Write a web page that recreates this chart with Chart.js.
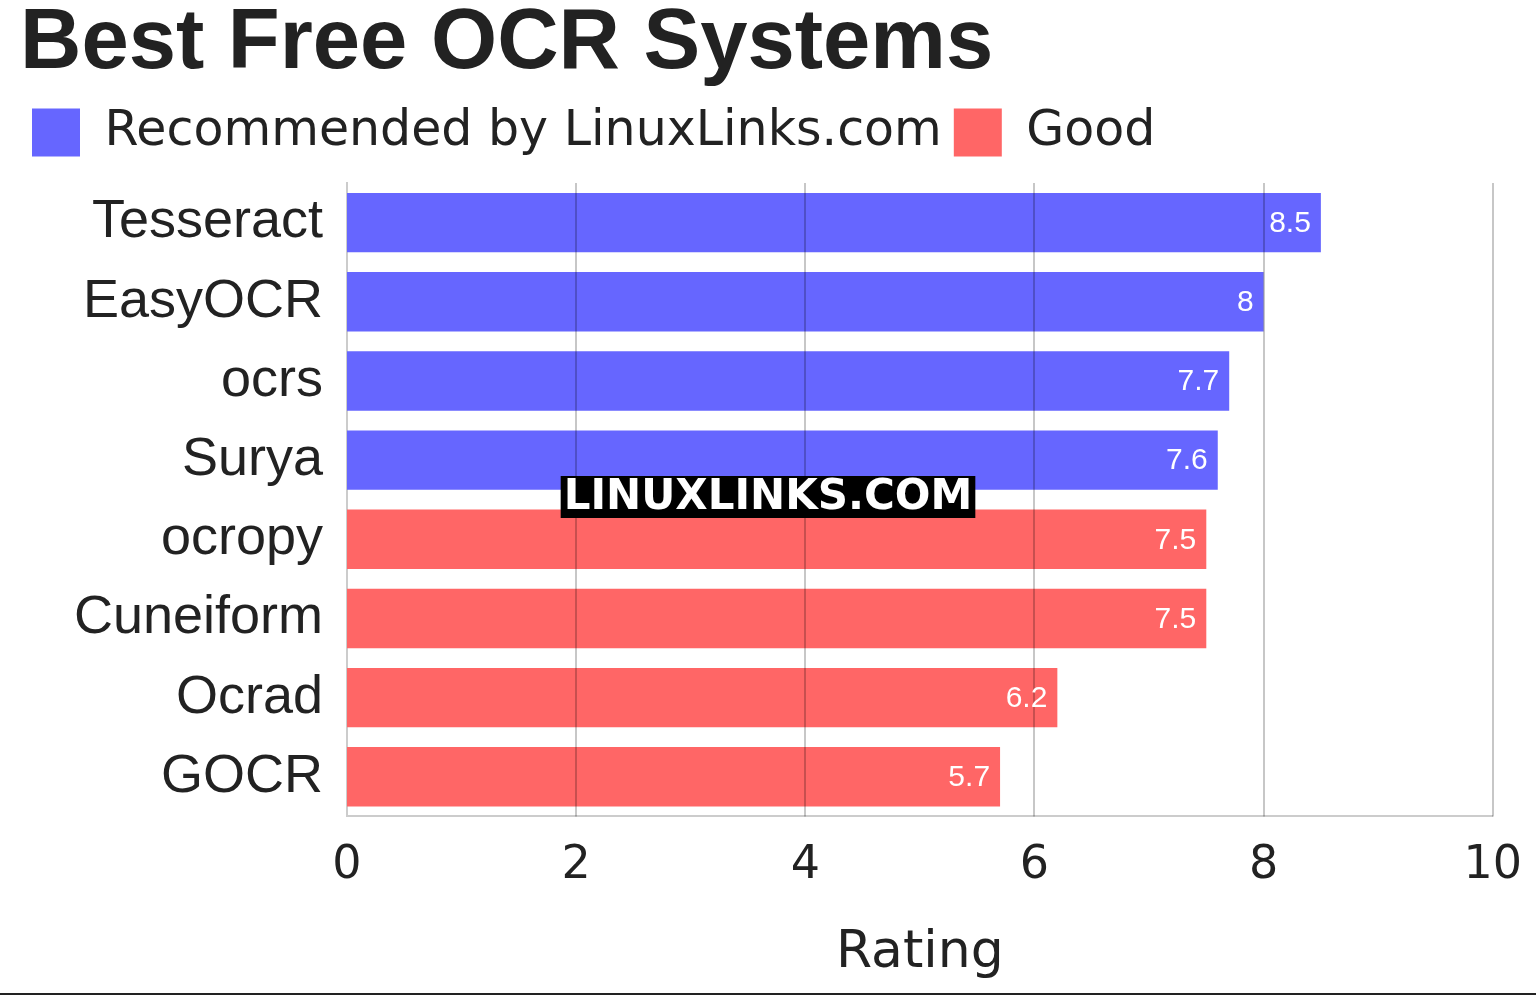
<!DOCTYPE html>
<html>
<head>
<meta charset="utf-8">
<script src="https://cdn.jsdelivr.net/npm/chart.js@4/dist/chart.umd.min.js"></script>
<style>
  html, body { margin: 0; padding: 0; background: #fff; }
  #wrap { width: 1536px; height: 993px; border-bottom: 2px solid #222; }
</style>
</head>
<body>
<div id="wrap"><canvas id="chartData" width="1536" height="993"></canvas></div>
<script>
const categories = ['Tesseract', 'EasyOCR', 'ocrs', 'Surya', 'ocropy', 'Cuneiform', 'Ocrad', 'GOCR']
const recommended = [8.5, 8, 7.7, 7.6, null, null, null, null]
const good = [null, null, null, null, 7.5, 7.5, 6.2, 5.7]
const xTicks = [0, 2, 4, 6, 8, 10]

// extra room under the legend
const legendGap = {
  id: 'legendGap',
  beforeLayout(chart) {
    const lg = chart.legend
    if (!lg || lg._gapPatched) return
    const fit = lg.fit
    lg.fit = function () { fit.call(this); this.height += 16 }
    lg._gapPatched = true
  }
}

// grid lines drawn over the bars, then value labels inside end of bars
const overlay = {
  id: 'overlay',
  afterDatasetsDraw(chart) {
    const ctx = chart.ctx
    const x = chart.scales.x
    const area = chart.chartArea
    ctx.save()
    ctx.strokeStyle = 'rgba(0,0,0,0.22)'
    ctx.lineWidth = 2
    xTicks.slice(1).forEach(v => {
      const px = Math.round(x.getPixelForValue(v))
      ctx.beginPath()
      ctx.moveTo(px, area.top)
      ctx.lineTo(px, area.bottom)
      ctx.stroke()
    })
    ctx.font = '30px "Liberation Sans"'
    ctx.fillStyle = '#fff'
    ctx.textAlign = 'right'
    ctx.textBaseline = 'middle'
    chart.data.datasets.forEach((ds, i) => {
      chart.getDatasetMeta(i).data.forEach((bar, j) => {
        if (ds.data[j] == null) return
        ctx.fillText(String(ds.data[j]), bar.x - 10, bar.y + 1)
      })
    })
    ctx.restore()
  }
}

// watermark
const watermark = {
  id: 'watermark',
  afterDraw(chart) {
    const ctx = chart.ctx
    ctx.save()
    ctx.font = 'bold 42px "DejaVu Sans"'
    const txt = 'LINUXLINKS.COM'
    const w = ctx.measureText(txt).width
    const cx = 768, cy = 497
    ctx.fillStyle = '#000'
    ctx.fillRect(cx - w / 2 - 3, cy - 21, w + 6, 42)
    ctx.fillStyle = '#fff'
    ctx.textAlign = 'center'
    ctx.textBaseline = 'middle'
    ctx.fillText(txt, cx, cy + 1)
    ctx.restore()
  }
}

new Chart(document.getElementById('chartData'), {
  type: 'bar',
  data: {
    labels: categories,
    datasets: [{
      label: 'Recommended by LinuxLinks.com',
      data: recommended,
      backgroundColor: 'rgb(102,102,255)'
    }, {
      label: 'Good',
      data: good,
      backgroundColor: 'rgb(255,102,102)'
    }]
  },
  options: {
    indexAxis: 'y',
    responsive: false,
    animation: false,
    categoryPercentage: 1,
    barPercentage: 0.75,
    layout: { padding: { left: 20, right: 0, bottom: 4, top: -6 } },
    plugins: {
      title: {
        display: true,
        text: 'Best Free OCR Systems',
        align: 'start',
        color: '#222',
        font: { family: '"Liberation Sans"', size: 85, weight: 'bold' },
        padding: { top: 0, bottom: 0 }
      },
      legend: {
        align: 'start',
        labels: {
          color: '#222',
          font: { family: '"DejaVu Sans"', size: 49 },
          boxWidth: 48,
          boxHeight: 48,
          padding: 12
        }
      },
      tooltip: { enabled: false }
    },
    scales: {
      x: {
        min: 0,
        max: 10,
        stacked: true,
        afterBuildTicks: (axis) => { axis.ticks = xTicks.map(v => ({ value: v })) },
        grid: { display: false },
        border: { color: '#ccc', width: 2 },
        ticks: { color: '#222', font: { family: '"DejaVu Sans"', size: 46 }, padding: 14 },
        title: {
          display: true,
          text: 'Rating',
          color: '#222',
          font: { family: '"DejaVu Sans"', size: 52 },
          padding: { top: 15 }
        }
      },
      y: {
        stacked: true,
        afterFit: (s) => { s.width = 327 },
        grid: { display: false },
        border: { color: '#ccc', width: 2 },
        ticks: { color: '#222', font: { family: '"Liberation Sans"', size: 54 }, padding: 16 }
      }
    }
  },
  plugins: [legendGap, overlay, watermark]
})
</script>
</body>
</html>
